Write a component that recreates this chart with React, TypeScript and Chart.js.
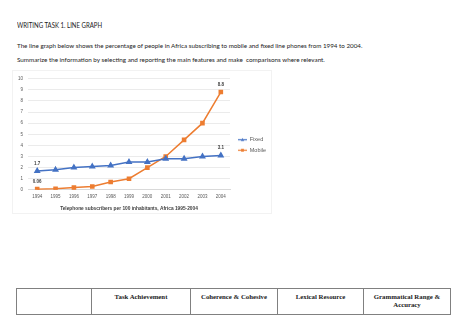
import React, { useEffect, useRef } from "react";
import { Chart, registerables } from "chart.js";

Chart.register(...registerables);

const years = ["1994", "1995", "1996", "1997", "1998", "1999", "2000", "2001", "2002", "2003", "2004"];
const fixedValues = [1.7, 1.8, 2.0, 2.1, 2.2, 2.5, 2.5, 2.8, 2.8, 3.0, 3.1];
const mobileValues = [0.06, 0.1, 0.2, 0.3, 0.7, 1.0, 2.0, 3.0, 4.5, 6.0, 8.8];
const yTicks = [0, 1, 2, 3, 4, 5, 6, 7, 8, 9, 10];
const labelledPoints = [0, 10];
const tableHeaders = ["", "Task Achievement", "Coherence & Cohesive", "Lexical Resource", "Grammatical Range & Accuracy"];

const BLUE = "#4472C4";
const ORANGE = "#ED7D31";

function legendSymbol(color: string, shape: "triangle" | "rect") {
  const c = document.createElement("canvas");
  c.width = 9;
  c.height = 5;
  const g = c.getContext("2d")!;
  g.strokeStyle = color;
  g.fillStyle = color;
  g.lineWidth = 1.2;
  g.beginPath();
  g.moveTo(0, 2.5);
  g.lineTo(9, 2.5);
  g.stroke();
  g.beginPath();
  if (shape === "triangle") {
    g.moveTo(4.5, 0.8);
    g.lineTo(6.2, 3.8);
    g.lineTo(2.8, 3.8);
    g.closePath();
  } else {
    g.rect(3.1, 1.1, 2.8, 2.8);
  }
  g.fill();
  return c;
}

const LEGEND_WIDTH = 41;
const LEGEND_SHIFT = 3;

const legendSizePlugin = {
  id: "legendSize",
  beforeLayout(chart: any) {
    const lg = chart.legend;
    if (lg && !lg._sizePatched) {
      const orig = lg.fit.bind(lg);
      lg.fit = function () {
        orig();
        this.width = LEGEND_WIDTH;
      };
      lg._sizePatched = true;
    }
  },
  afterLayout(chart: any) {
    const lg = chart.legend;
    if (lg) {
      lg.left += LEGEND_SHIFT;
      lg.right += LEGEND_SHIFT;
    }
  },
};

const dataLabelPlugin = {
  id: "dataLabels",
  afterDatasetsDraw(chart: any) {
    const ctx = chart.ctx;
    ctx.save();
    ctx.font = "bold 4.5px 'Liberation Sans', Arial, sans-serif";
    ctx.fillStyle = "#404040";
    ctx.textAlign = "center";
    ctx.textBaseline = "bottom";
    chart.data.datasets.forEach((ds: any, di: number) => {
      const meta = chart.getDatasetMeta(di);
      labelledPoints.forEach((i) => {
        const pt = meta.data[i];
        if (!pt) return;
        const v = ds.data[i];
        const txt = v < 0.1 ? v.toFixed(2) : v.toFixed(1);
        ctx.fillText(txt, pt.x, pt.y - 5);
      });
    });
    ctx.restore();
  },
};

function LineChart() {
  const ref = useRef<HTMLCanvasElement | null>(null);
  useEffect(() => {
    if (!ref.current) return;
    const symbols = [legendSymbol(BLUE, "triangle"), legendSymbol(ORANGE, "rect")];
    const chart = new Chart(ref.current, {
      type: "line",
      data: {
        labels: years,
        datasets: [
          {
            label: "Fixed",
            data: fixedValues,
            borderColor: BLUE,
            backgroundColor: BLUE,
            borderWidth: 1.5,
            pointStyle: "triangle",
            pointRadius: 2.5,
            pointBackgroundColor: BLUE,
            pointBorderColor: BLUE,
            tension: 0,
          },
          {
            label: "Mobile",
            data: mobileValues,
            borderColor: ORANGE,
            backgroundColor: ORANGE,
            borderWidth: 1.5,
            pointStyle: "rect",
            pointRadius: 2.2,
            pointBackgroundColor: ORANGE,
            pointBorderColor: ORANGE,
            tension: 0,
          },
        ],
      },
      options: {
        animation: false,
        responsive: false,
        maintainAspectRatio: false,
        devicePixelRatio: 1,
        layout: { padding: { left: 0, top: 7, right: 0, bottom: 1 } },
        plugins: {
          legend: {
            position: "right",
            align: "center",
            labels: {
              usePointStyle: true,
              pointStyleWidth: 9,
              boxHeight: 5,
              padding: 5,
              color: "#595959",
              font: { size: 5.5, family: "'Liberation Sans', Arial, sans-serif" },
              generateLabels: (chart: any) => {
                const base = Chart.defaults.plugins.legend.labels.generateLabels(chart);
                return base.map((l: any, i: number) => ({ ...l, pointStyle: symbols[i] }));
              },
            },
          },
          tooltip: { enabled: false },
        },
        scales: {
          x: {
            offset: true,
            grid: { display: false, drawTicks: false },
            border: { display: true, color: "#D9D9D9" },
            ticks: {
              color: "#595959",
              padding: 4,
              maxRotation: 0,
              font: { size: 4.5, family: "'Liberation Sans', Arial, sans-serif" },
            },
            title: {
              display: true,
              text: "Telephone subscribers per 100 inhabitants, Africa 1995-2004",
              color: "#404040",
              padding: { top: 3, bottom: 0 },
              font: { size: 4.8, weight: "bold", family: "'Liberation Sans', Arial, sans-serif" },
            },
          },
          y: {
            min: 0,
            max: 10,
            afterBuildTicks: (axis: any) => {
              axis.ticks = yTicks.map((v) => ({ value: v }));
            },
            grid: { color: "#E6E6E6", drawTicks: false, lineWidth: 0.8 },
            border: { display: false },
            ticks: {
              color: "#595959",
              padding: 5,
              font: { size: 4.5, family: "'Liberation Sans', Arial, sans-serif" },
            },
          },
        },
      },
      plugins: [legendSizePlugin, dataLabelPlugin],
    } as any);
    return () => chart.destroy();
  }, []);
  return <canvas ref={ref} width={258} height={142} style={{ width: 258, height: 142, display: "block" }} />;
}

export default function App() {
  const textFont = "Lato, 'Noto Sans', sans-serif";
  return (
    <div
      style={{
        position: "absolute",
        left: 0,
        top: 0,
        width: 474,
        height: 335,
        background: "#fff",
        overflow: "hidden",
        color: "#1a1a1a",
      }}
    >
      <div
        style={{
          position: "absolute",
          left: 17,
          top: 20.5,
          fontFamily: textFont,
          fontSize: 7.3,
          whiteSpace: "nowrap",
          transform: "scaleX(0.83)",
          transformOrigin: "0 0",
        }}
      >
        WRITING TASK 1. LINE GRAPH
      </div>
      <div style={{ position: "absolute", left: 17, top: 41.5, fontFamily: textFont, fontSize: 6.25, whiteSpace: "nowrap" }}>
        The line graph below shows the percentage of people in Africa subscribing to mobile and fixed line phones from 1994 to 2004.
      </div>
      <div style={{ position: "absolute", left: 17, top: 55.5, fontFamily: textFont, fontSize: 6.3, whiteSpace: "pre" }}>
        Summarize the information by selecting and reporting the main features and make  comparisons where relevant.
      </div>
      <div style={{ position: "absolute", left: 12, top: 70, border: "1px solid #F2F2F2" }}>
        <LineChart />
      </div>
      <table
        style={{
          position: "absolute",
          left: 16,
          top: 288,
          width: 434,
          height: 27,
          borderCollapse: "collapse",
          tableLayout: "fixed",
          fontFamily: "'Liberation Serif', 'Times New Roman', serif",
          fontWeight: "bold",
          fontSize: 6.8,
          color: "#222",
        }}
      >
        <colgroup>
          <col style={{ width: 75 }} />
          <col style={{ width: 99 }} />
          <col style={{ width: 87 }} />
          <col style={{ width: 86 }} />
          <col style={{ width: 87 }} />
        </colgroup>
        <tbody>
          <tr>
            {tableHeaders.map((h, i) => (
              <td
                key={i}
                style={{
                  border: "1px solid #808080",
                  verticalAlign: "top",
                  textAlign: "center",
                  padding: "4px 8px 0 8px",
                  lineHeight: "8px",
                }}
              >
                {h}
              </td>
            ))}
          </tr>
        </tbody>
      </table>
    </div>
  );
}
